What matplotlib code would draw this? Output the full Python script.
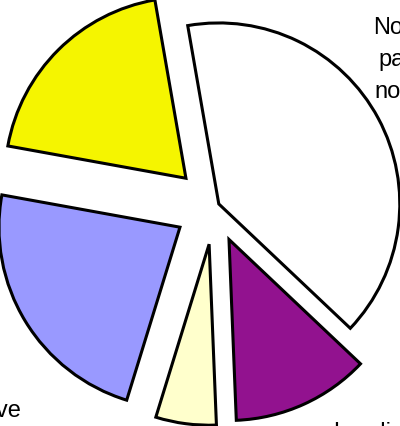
import matplotlib
matplotlib.use("Agg")
import matplotlib.pyplot as plt

# shares (percent), counter-clockwise from the lower right
labels = ["None\npaid\nnone", "", "Positive", "", "Lending"]
shares = [39.8, 19.4, 23.1, 5.4, 12.3]
colors = ["#ffffff", "#f5f500", "#9999ff", "#ffffcc", "#92128f"]
explode = [0.03, 0.22, 0.22, 0.21, 0.20]   # as a fraction of the radius

plt.rcParams['font.family'] = ['Liberation Sans', 'DejaVu Sans']

R = 181
fig = plt.figure(figsize=(4.0, 4.27), dpi=100)
ax = fig.add_axes([0, 0, 1, 1])

wedges, _ = ax.pie(shares, colors=colors, explode=[e * R for e in explode],
                   startangle=-43.4, counterclock=True, radius=R,
                   center=(214, 219.5),
                   wedgeprops=dict(edgecolor="black", linewidth=2.2))

# labels sit partly outside the cropped picture
ax.text(401, 410, labels[0], ha="center", va="top", fontsize=17,
        multialignment="center", linespacing=1.58)
ax.text(21, 10, labels[2], ha="right", va="baseline", fontsize=17)
ax.text(333, -12, labels[4], ha="left", va="baseline", fontsize=17)

ax.set_xlim(0, 400)
ax.set_ylim(0, 427)
ax.set_aspect("equal")
ax.axis("off")

fig.savefig("out.png", dpi=100)
